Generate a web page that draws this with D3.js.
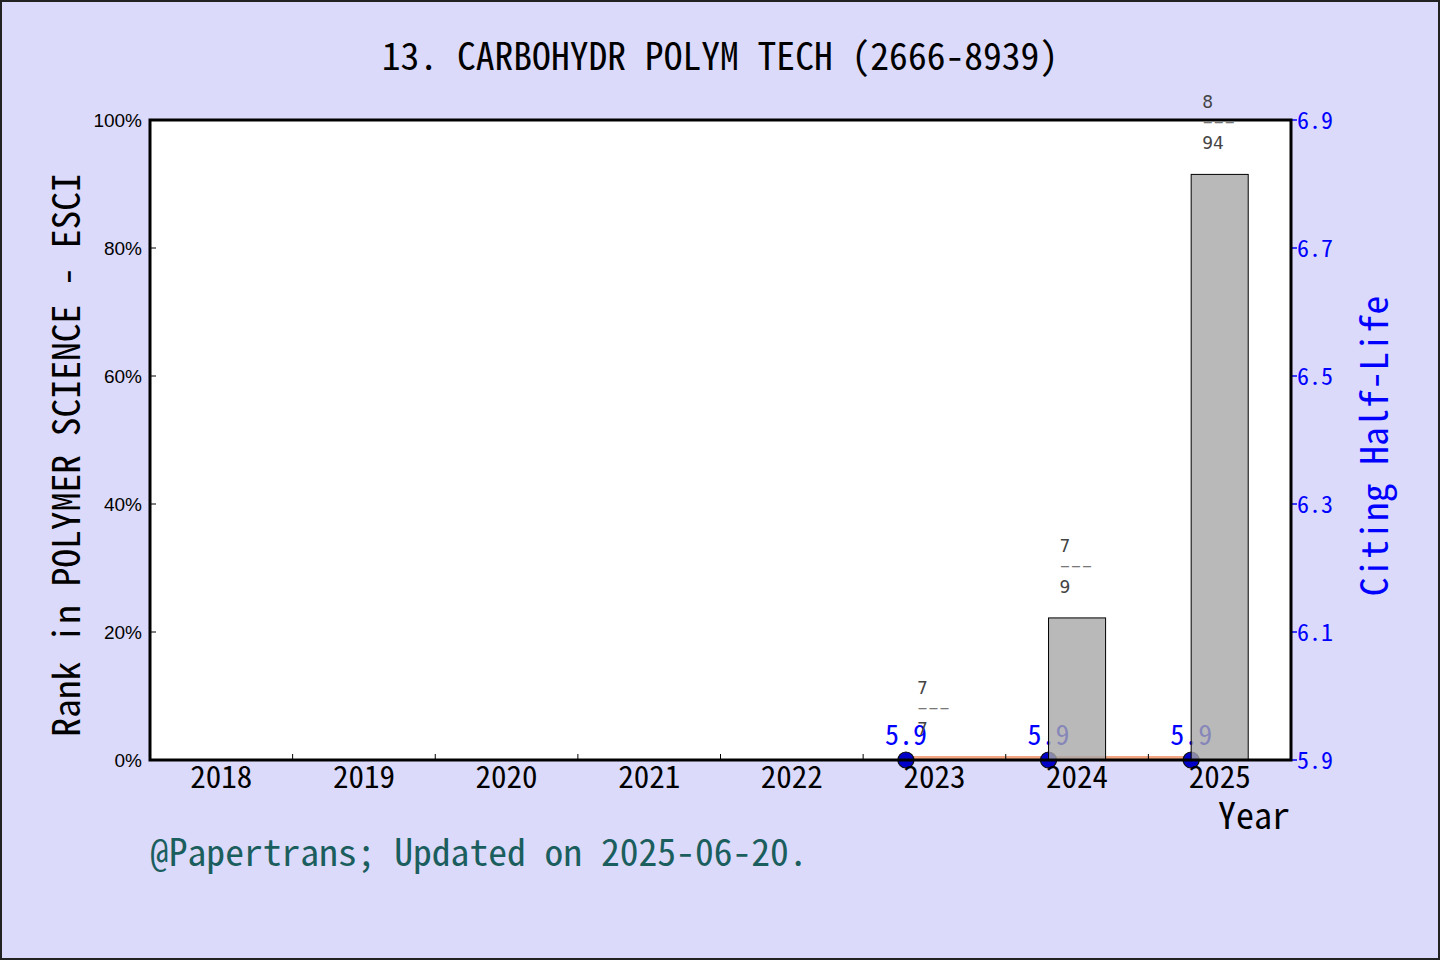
<!DOCTYPE html>
<html><head><meta charset="utf-8">
<script src="https://cdn.jsdelivr.net/npm/d3@7"></script>
<style>
html,body{margin:0;padding:0;background:#dcdafa;}
svg{display:block;}
</style></head>
<body>
<script>
const years = ["2018","2019","2020","2021","2022","2023","2024","2025"];
const rankPct = [null,null,null,null,null,0,22.2,91.5];
const rankPos = [null,null,null,null,null,7,7,8];
const rankTotal = [null,null,null,null,null,7,9,94];
const halfLife = [null,null,null,null,null,5.9,5.9,5.9];
const leftTicks = [0,20,40,60,80,100];
const rightTicks = [5.9,6.1,6.3,6.5,6.7,6.9];

const W=1440,H=960;
const M={l:150,r:1291,t:120,b:760};
const mono="'Noto Sans Mono CJK SC','DejaVu Sans Mono',monospace";
const sans="'Liberation Sans',Arial,sans-serif";
const big=37.6;

const svg=d3.select("body").append("svg").attr("width",W).attr("height",H);
svg.append("rect").attr("x",1).attr("y",1).attr("width",W-2).attr("height",H-2)
  .attr("fill","#dcdafa").attr("stroke","#222").attr("stroke-width",2);

const x=d3.scaleBand().domain(years).range([M.l,M.r]).padding(0);
const y=d3.scaleLinear().domain([0,100]).range([M.b,M.t]);
const y2=d3.scaleLinear().domain([5.9,6.9]).range([M.b,M.t]);
const bw=x.bandwidth()*0.4;
const barX=d=>x(d)+x.bandwidth()*0.3;

svg.append("rect").attr("x",M.l).attr("y",M.t).attr("width",M.r-M.l).attr("height",M.b-M.t).attr("fill","#fff");

// title
svg.append("text").attr("x",720).attr("y",70).attr("text-anchor","middle")
  .attr("font-family",mono).attr("font-size",big).attr("fill","#000")
  .text("13. CARBOHYDR POLYM TECH (2666-8939)");

// half-life line
const hl=years.map((d,i)=>({y:d,v:halfLife[i]})).filter(d=>d.v!=null);
const line=d3.line().x(d=>barX(d.y)).y(d=>y2(d.v)-2.5);
svg.append("path").datum(hl).attr("d",line).attr("fill","none").attr("stroke","#f4a582").attr("stroke-width",3);
svg.selectAll(".dot").data(hl).enter().append("circle")
  .attr("cx",d=>barX(d.y)).attr("cy",d=>y2(d.v)).attr("r",8)
  .attr("fill","#0000c8").attr("stroke","#111").attr("stroke-width",1.2);
svg.selectAll(".hlt").data(hl).enter().append("text")
  .attr("x",d=>barX(d.y)).attr("y",d=>y2(d.v)-15).attr("text-anchor","middle")
  .attr("font-family",mono).attr("font-size",28).attr("fill","#0000ff")
  .text(d=>d.v.toFixed(1));

// bars
const bars=years.map((d,i)=>({y:d,v:rankPct[i],r:rankPos[i],t:rankTotal[i]})).filter(d=>d.v!=null);
svg.selectAll(".bar").data(bars).enter().append("rect")
  .attr("x",d=>barX(d.y)).attr("y",d=>y(d.v)).attr("width",bw).attr("height",d=>y(0)-y(d.v))
  .attr("fill","rgb(168,168,168)").attr("fill-opacity",0.8).attr("stroke","#000").attr("stroke-width",1);

// rank labels
const rl=svg.selectAll(".rl").data(bars).enter().append("g");
rl.append("text").attr("x",d=>barX(d.y)+11).attr("y",d=>y(d.v)-66)
  .attr("font-family","'DejaVu Sans',sans-serif").attr("font-size",17).attr("fill","#444").text(d=>d.r);
rl.append("text").attr("x",d=>barX(d.y)+11).attr("y",d=>y(d.v)-47)
  .attr("font-family","'DejaVu Sans',sans-serif").attr("font-size",17).attr("fill","#777")
  .attr("textLength",33).attr("lengthAdjust","spacingAndGlyphs").text("---");
rl.append("text").attr("x",d=>barX(d.y)+11).attr("y",d=>y(d.v)-25)
  .attr("font-family","'DejaVu Sans',sans-serif").attr("font-size",17).attr("fill","#444").text(d=>d.t);

// x axis ticks (inner, at band boundaries)
svg.selectAll(".xt").data(years.slice(1)).enter().append("line")
  .attr("x1",d=>x(d)).attr("x2",d=>x(d)).attr("y1",M.b).attr("y2",M.b-6).attr("stroke","#000").attr("stroke-width",1);
svg.selectAll(".xl").data(years).enter().append("text")
  .attr("x",d=>x(d)+x.bandwidth()/2).attr("y",788).attr("text-anchor","middle")
  .attr("font-family",mono).attr("font-size",31).attr("fill","#000").text(d=>d);

// left axis
svg.selectAll(".lt").data(leftTicks).enter().append("line")
  .attr("x1",M.l).attr("x2",M.l+6).attr("y1",d=>y(d)).attr("y2",d=>y(d)).attr("stroke","#000");
svg.selectAll(".ll").data(leftTicks).enter().append("text")
  .attr("x",142).attr("y",d=>y(d)).attr("dy","0.35em").attr("text-anchor","end")
  .attr("font-family",sans).attr("font-size",19).attr("fill","#000").text(d=>d+"%");

// right axis
svg.selectAll(".rt").data(rightTicks).enter().append("line")
  .attr("x1",M.r).attr("x2",M.r+6).attr("y1",d=>y2(d)).attr("y2",d=>y2(d)).attr("stroke","#0000ff").attr("stroke-width",1.5);
svg.selectAll(".rlb").data(rightTicks).enter().append("text")
  .attr("x",M.r+6).attr("y",d=>y2(d)).attr("dy","0.36em")
  .attr("font-family",mono).attr("font-size",24).attr("fill","#0000ff").text(d=>d.toFixed(1));

// frame
svg.append("rect").attr("x",M.l).attr("y",M.t).attr("width",M.r-M.l).attr("height",M.b-M.t)
  .attr("fill","none").attr("stroke","#000").attr("stroke-width",3);

// axis titles
svg.append("text").attr("transform","translate(80,455) rotate(-90)").attr("text-anchor","middle")
  .attr("font-family",mono).attr("font-size",big).attr("fill","#000").text("Rank in POLYMER SCIENCE - ESCI");
svg.append("text").attr("transform","translate(1388,446) rotate(-90)").attr("text-anchor","middle")
  .attr("font-family",mono).attr("font-size",big).attr("fill","#0000ff").text("Citing Half-Life");
svg.append("text").attr("x",1290).attr("y",829).attr("text-anchor","end")
  .attr("font-family",mono).attr("font-size",36).attr("fill","#000").text("Year");

// footer
svg.append("text").attr("x",150).attr("y",866)
  .attr("font-family",mono).attr("font-size",big).attr("fill","#1b5e5e").text("@Papertrans; Updated on 2025-06-20.");
</script>
</body></html>
